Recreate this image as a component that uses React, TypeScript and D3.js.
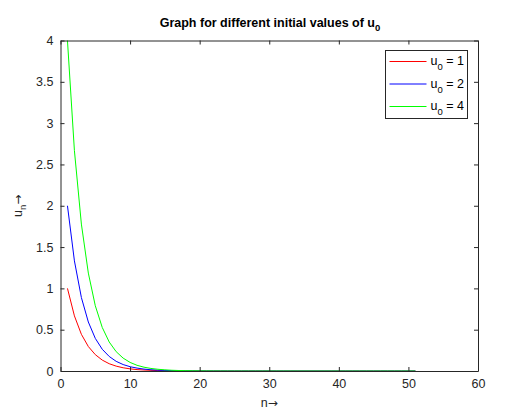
import { useEffect, useRef } from 'react';
import * as d3 from 'd3';

// n = 1..51
const u1 = [
  1, 0.667, 0.444, 0.296, 0.198, 0.132, 0.088, 0.059, 0.039, 0.026,
  0.017, 0.012, 0.008, 0.005, 0.0035, 0.0023, 0.0015, 0.001, 0.0007, 0.0005,
  0.0003, 0.0002, 0.00014, 0.0001, 0.00006, 0.00004, 0.00003, 0.00002, 0.00001, 0.00001,
  0, 0, 0, 0, 0, 0, 0, 0, 0, 0,
  0, 0, 0, 0, 0, 0, 0, 0, 0, 0, 0
];
const u2 = [
  2, 1.333, 0.889, 0.593, 0.395, 0.263, 0.176, 0.117, 0.078, 0.052,
  0.035, 0.023, 0.015, 0.010, 0.007, 0.0046, 0.003, 0.002, 0.0014, 0.0009,
  0.0006, 0.0004, 0.0003, 0.0002, 0.00012, 0.00008, 0.00005, 0.00004, 0.00002, 0.00002,
  0.00001, 0.00001, 0, 0, 0, 0, 0, 0, 0, 0,
  0, 0, 0, 0, 0, 0, 0, 0, 0, 0, 0
];
const u4 = [
  4, 2.667, 1.778, 1.185, 0.790, 0.527, 0.351, 0.234, 0.156, 0.104,
  0.069, 0.046, 0.031, 0.021, 0.014, 0.009, 0.006, 0.004, 0.0027, 0.0018,
  0.0012, 0.0008, 0.0005, 0.00035, 0.00024, 0.00016, 0.0001, 0.00007, 0.00005, 0.00003,
  0.00002, 0.00001, 0.00001, 0, 0, 0, 0, 0, 0, 0,
  0, 0, 0, 0, 0, 0, 0, 0, 0, 0, 0
];

const series = [
  { label: '1', values: u1, color: '#ff0000' },
  { label: '2', values: u2, color: '#0000ff' },
  { label: '4', values: u4, color: '#00ff00' }
];

const xTicks = [0, 10, 20, 30, 40, 50, 60];
const yTicks = [0, 0.5, 1, 1.5, 2, 2.5, 3, 3.5, 4];

export default function App() {
  const svgRef = useRef<SVGSVGElement>(null);

  useEffect(() => {
    if (!svgRef.current) return;
    const width = 522;
    const height = 417;
    const font = 'Liberation Sans, Arial, sans-serif';
    const arrowFont = 'DejaVu Sans, sans-serif';
    const axisColor = '#262626';

    d3.select(svgRef.current).selectAll('*').remove();
    const svg = d3.select(svgRef.current)
      .attr('width', width)
      .attr('height', height);

    const margin = { top: 40.5, right: 44, bottom: 46, left: 60.5 };
    const innerWidth = width - margin.left - margin.right;
    const innerHeight = height - margin.top - margin.bottom;

    const g = svg.append('g')
      .attr('transform', `translate(${margin.left},${margin.top})`);

    const xScale = d3.scaleLinear().domain([0, 60]).range([0, innerWidth]);
    const yScale = d3.scaleLinear().domain([0, 4]).range([innerHeight, 0]);

    // Lines
    const line = d3.line<number>()
      .x((_, i) => xScale(i + 1))
      .y(d => yScale(d));

    series.forEach(s => {
      g.append('path')
        .datum(s.values)
        .attr('d', line)
        .attr('fill', 'none')
        .attr('stroke', s.color)
        .attr('stroke-width', 1);
    });

    // Axes box with inward ticks on all sides
    const tickLen = 4;
    const bottom = g.append('g').attr('transform', `translate(0,${innerHeight})`)
      .call(d3.axisBottom(xScale).tickValues(xTicks).tickSizeInner(-tickLen).tickSizeOuter(0).tickPadding(8));
    const top = g.append('g')
      .call(d3.axisTop(xScale).tickValues(xTicks).tickSizeInner(-tickLen).tickSizeOuter(0).tickFormat(() => ''));
    const left = g.append('g')
      .call(d3.axisLeft(yScale).tickValues(yTicks).tickSizeInner(-tickLen).tickSizeOuter(0).tickPadding(7)
        .tickFormat(d => String(d)));
    const right = g.append('g').attr('transform', `translate(${innerWidth},0)`)
      .call(d3.axisRight(yScale).tickValues(yTicks).tickSizeInner(-tickLen).tickSizeOuter(0).tickFormat(() => ''));

    [bottom, top, left, right].forEach(ax => {
      ax.selectAll('path').attr('stroke', axisColor).attr('stroke-width', 1);
      ax.selectAll('line').attr('stroke', axisColor).attr('stroke-width', 1);
      ax.selectAll('text')
        .attr('font-family', font)
        .attr('font-size', '12.5px')
        .attr('fill', axisColor);
    });

    // Title
    const title = svg.append('text')
      .attr('x', 270)
      .attr('y', 27)
      .attr('text-anchor', 'middle')
      .attr('font-family', font)
      .attr('font-size', '12.5px')
      .attr('font-weight', 'bold')
      .attr('fill', '#000');
    title.append('tspan').text('Graph for different initial values of u');
    title.append('tspan').attr('dy', 4).attr('font-size', '9.5px').text('0');

    // X label
    const xl = svg.append('text')
      .attr('x', margin.left + innerWidth / 2)
      .attr('y', 407)
      .attr('text-anchor', 'middle')
      .attr('font-family', font)
      .attr('font-size', '12.5px')
      .attr('fill', axisColor);
    xl.append('tspan').text('n');
    xl.append('tspan').attr('font-family', arrowFont).attr('font-size', '12px').text('\u2192');

    // Y label
    const yl = svg.append('text')
      .attr('transform', `translate(22,${margin.top + innerHeight / 2}) rotate(-90)`)
      .attr('text-anchor', 'middle')
      .attr('font-family', font)
      .attr('font-size', '12.5px')
      .attr('fill', axisColor);
    yl.append('tspan').text('u');
    yl.append('tspan').attr('dy', 4).attr('font-size', '9.5px').text('n');
    yl.append('tspan').attr('dy', -4).attr('font-family', arrowFont).attr('font-size', '12px').text('\u2192');

    // Legend
    const legend = svg.append('g').attr('transform', 'translate(385.5,50.5)');
    legend.append('rect')
      .attr('width', 82)
      .attr('height', 68)
      .attr('fill', '#fff')
      .attr('stroke', axisColor)
      .attr('stroke-width', 1);

    series.forEach((s, i) => {
      const row = legend.append('g').attr('transform', `translate(0,${11 + i * 22.5})`);
      row.append('line')
        .attr('x1', 4)
        .attr('x2', 41)
        .attr('y1', 0)
        .attr('y2', 0)
        .attr('stroke', s.color)
        .attr('stroke-width', 1);
      const t = row.append('text')
        .attr('x', 45)
        .attr('y', 0)
        .attr('dy', '0.3em')
        .attr('font-family', font)
        .attr('font-size', '12.5px')
        .attr('fill', '#000');
      t.append('tspan').text('u');
      t.append('tspan').attr('dy', 5).attr('font-size', '9.5px').text('0');
      t.append('tspan').attr('dy', -5).text(` = ${s.label}`);
    });
  }, []);

  return (
    <svg
      ref={svgRef}
      style={{ position: 'absolute', left: 0, top: 0, display: 'block', background: '#fff' }}
    />
  );
}
